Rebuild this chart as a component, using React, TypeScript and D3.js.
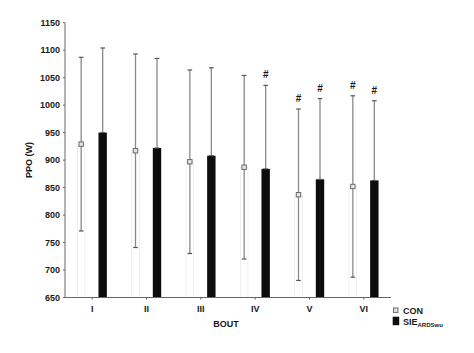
import React from "react";
import * as d3 from "d3";

const bouts = ["I", "II", "III", "IV", "V", "VI"];
const conMean = [929, 917, 897, 887, 837, 852];
const conSD = [158, 176, 167, 167, 156, 165];
const sieMean = [950, 922, 908, 884, 865, 863];
const sieSD = [154, 163, 160, 152, 147, 145];
const conHash = [false, false, false, false, true, true];
const sieHash = [false, false, false, true, true, true];
const yTicks = [650, 700, 750, 800, 850, 900, 950, 1000, 1050, 1100, 1150];

const W = 474;
const H = 353;
const left = 65;
const right = 391;
const top = 22.7;
const bottom = 297.5;

export default function App() {
  const x = d3.scaleBand<string>().domain(bouts).range([left, right]);
  const y = d3.scaleLinear().domain([650, 1150]).range([bottom, top]);
  const font = "Liberation Sans, Arial, sans-serif";
  const txt = "#1a1a1a";
  const errColor = "#8a8a8a";
  const capColor = "#555";

  return (
    <svg width={W} height={H} style={{ position: "absolute", left: 0, top: 0, background: "#fff" }}>
      <rect width={W} height={H} fill="#fff" />
      {bouts.map((b, i) => {
        const c = x(b)! + x.bandwidth() / 2;
        const cx = c - 11;
        const sx = c + 10.5;
        const cTop = y(conMean[i] + conSD[i]);
        const cBot = y(conMean[i] - conSD[i]);
        const sTop = y(sieMean[i] + sieSD[i]);
        return (
          <g key={b}>
            <rect x={cx - 3.8} y={y(conMean[i])} width={7.6} height={bottom - y(conMean[i])}
              fill="#fff" stroke="#ececec" strokeWidth={0.8} />
            <line x1={cx} x2={cx} y1={cTop} y2={cBot} stroke={errColor} strokeWidth={1.3} />
            <line x1={cx - 2.3} x2={cx + 2.3} y1={cTop} y2={cTop} stroke={capColor} strokeWidth={1.2} />
            <line x1={cx - 2.3} x2={cx + 2.3} y1={cBot} y2={cBot} stroke={capColor} strokeWidth={1.2} />
            <rect x={cx - 2.2} y={y(conMean[i]) - 2.2} width={4.4} height={4.4}
              fill="#e6e6e6" stroke="#6a6a6a" strokeWidth={1} />
            <line x1={sx} x2={sx} y1={sTop} y2={y(sieMean[i])} stroke={errColor} strokeWidth={1.3} />
            <line x1={sx - 2.3} x2={sx + 2.3} y1={sTop} y2={sTop} stroke={capColor} strokeWidth={1.2} />
            <rect x={sx - 4.2} y={y(sieMean[i])} width={8.4} height={bottom - y(sieMean[i])} fill="#0d0d0d" />
            <line x1={sx - 2.5} x2={sx + 2.5} y1={y(sieMean[i])} y2={y(sieMean[i])} stroke="#555" strokeWidth={1} />
            {conHash[i] && (
              <text x={cx} y={cTop - 7} textAnchor="middle" fontFamily={font} fontWeight="bold" fontSize={10} fill={txt}>#</text>
            )}
            {sieHash[i] && (
              <text x={sx} y={sTop - 7} textAnchor="middle" fontFamily={font} fontWeight="bold" fontSize={10} fill={txt}>#</text>
            )}
            <line x1={c} x2={c} y1={bottom} y2={bottom + 2} stroke="#555" strokeWidth={1} />
            <text x={c} y={bottom + 14} textAnchor="middle" fontFamily={font} fontWeight="bold" fontSize={9} fill={txt}>{b}</text>
          </g>
        );
      })}
      <line x1={left} x2={left} y1={top} y2={bottom} stroke="#666" strokeWidth={1} />
      <line x1={left} x2={right} y1={bottom} y2={bottom} stroke="#666" strokeWidth={1} />
      {yTicks.map((t) => (
        <g key={t}>
          <line x1={left - 2} x2={left} y1={y(t)} y2={y(t)} stroke="#666" strokeWidth={1} />
          <text x={left - 5} y={y(t) + 3.2} textAnchor="end" fontFamily={font} fontWeight="bold" fontSize={9} fill={txt}>{t}</text>
        </g>
      ))}
      <text transform={`translate(32,${(top + bottom) / 2}) rotate(-90)`} textAnchor="middle"
        fontFamily={font} fontWeight="bold" fontSize={9} fill={txt}>PPO (W)</text>
      <text x={226} y={327} textAnchor="middle" fontFamily={font} fontWeight="bold" fontSize={9} fill={txt}>BOUT</text>
      <rect x={393.5} y={308} width={4.4} height={4.4} fill="#e6e6e6" stroke="#6a6a6a" strokeWidth={1} />
      <text x={403} y={313.5} fontFamily={font} fontWeight="bold" fontSize={9} fill={txt}>CON</text>
      <rect x={392.7} y={316.7} width={6.5} height={8.5} fill="#0d0d0d" />
      <text x={403} y={324.5} fontFamily={font} fontWeight="bold" fontSize={9} fill={txt}>
        SIE<tspan fontSize={6} dy={2}>ARDSwu</tspan>
      </text>
    </svg>
  );
}
